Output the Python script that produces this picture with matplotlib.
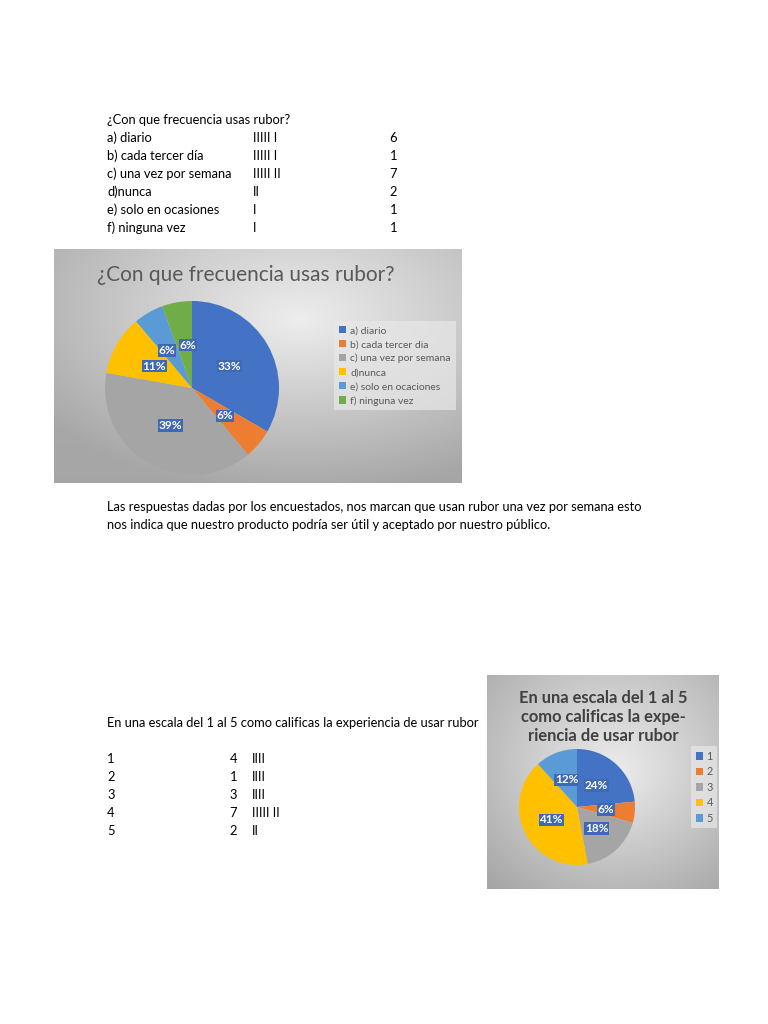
import numpy as np
import matplotlib
matplotlib.use("Agg")
import matplotlib.pyplot as plt
from matplotlib.patches import Patch

plt.rcParams['font.family'] = ['Lato', 'DejaVu Sans']

# datos encuesta 1
preg1 = "¿Con que frecuencia usas rubor?"
opciones1 = ["a) diario", "b) cada tercer día", "c) una vez por semana",
             "d)nunca", "e) solo en ocasiones", "f) ninguna vez"]
leyenda1 = ["a) diario", "b) cada tercer dia", "c) una vez por semana",
            "d)nunca", "e) solo en ocaciones", "f) ninguna vez"]
conteo1 = ["IIIII I", "IIIII I", "IIIII II", "II", "I", "I"]
valores1 = [6, 1, 7, 2, 1, 1]

# datos encuesta 2
preg2 = "En una escala del 1 al 5 como calificas la experiencia de usar rubor"
titulo2 = "En una escala del 1 al 5\ncomo calificas la expe-\nriencia de usar rubor"
escala2 = ["1", "2", "3", "4", "5"]
conteo2 = ["IIII", "IIII", "IIII", "IIIII II", "II"]
valores2 = [4, 1, 3, 7, 2]

parrafo = ["Las respuestas dadas por los encuestados, nos marcan que usan rubor una vez por semana esto",
           "nos indica que nuestro producto podría ser útil y aceptado por nuestro público."]

colores = ["#4472C4", "#ED7D31", "#A5A5A5", "#FFC000", "#5B9BD5", "#70AD47"]

W, H = 768, 1024
fig = plt.figure(figsize=(W/100, H/100), dpi=100)
fig.patch.set_facecolor("white")

def px(x, y):
    return x / W, 1 - y / H

def txt(x, y, s, **kw):
    kw.setdefault("fontsize", 9.25)
    kw.setdefault("color", "black")
    kw.setdefault("va", "center")
    fig.text(*px(x, y), s, **kw)

def rect(x0, y0, x1, y1):
    return [x0 / W, 1 - y1 / H, (x1 - x0) / W, (y1 - y0) / H]

def fondo(x0, y0, x1, y1, cx, cy):
    ax = fig.add_axes(rect(x0, y0, x1, y1))
    w, h = x1 - x0, y1 - y0
    xx, yy = np.meshgrid(np.arange(w), np.arange(h))
    d = np.sqrt(((xx - cx * w) / w) ** 2 + ((yy - cy * h) / h) ** 2)
    v = 0.94 - 0.26 * np.clip(d / 0.75, 0, 1) - 0.03 * yy / h
    img = np.dstack([v, v, v])
    ax.imshow(img, extent=[0, w, h, 0], aspect="auto", interpolation="bilinear")
    ax.set_axis_off()
    return ax

# tabla 1
txt(107, 120, preg1)
for i, (op, c, v) in enumerate(zip(opciones1, conteo1, valores1)):
    y = 138 + 18 * i
    txt(107, y, op)
    txt(253, y, c)
    txt(397, y, str(v), ha="right")

# grafica 1
fondo(54, 249, 462, 483, 0.6, 0.3)
txt(246, 275, preg1, fontsize=15, color="#595959", ha="center")
cx1, cy1, r1 = 192, 388, 87
ax1 = fig.add_axes(rect(cx1 - r1, cy1 - r1, cx1 + r1, cy1 + r1))
w1, t1, a1 = ax1.pie(valores1, colors=colores, startangle=90, counterclock=False,
                     autopct="%1.0f%%", pctdistance=0.5, radius=1,
                     textprops=dict(color="white", fontsize=8.6, fontweight="bold"))
for t in a1:
    t.set_bbox(dict(facecolor="#3F68B5", edgecolor="none", pad=0.5))
# separar un poco las dos etiquetas pequeñas
x, y = a1[4].get_position()
a1[4].set_position((x - 0.04, y))
x, y = a1[5].get_position()
a1[5].set_position((x + 0.04, y))
ax1.set_xlim(-1, 1)
ax1.set_ylim(-1, 1)
lh1 = [Patch(facecolor=c, edgecolor="none") for c in colores]
fig.legend(lh1, leyenda1, loc="upper left", bbox_to_anchor=px(329, 316),
           fontsize=7.5, frameon=True, facecolor="#E8E8E8", edgecolor="none",
           framealpha=0.7, fancybox=False, handlelength=0.7, handleheight=0.7,
           handletextpad=0.4, labelspacing=0.45, borderpad=0.45,
           labelcolor="#595959")

# parrafo
for i, linea in enumerate(parrafo):
    txt(107, 507 + 18 * i, linea)

# tabla 2
txt(107, 723, preg2)
for i, (e, v, c) in enumerate(zip(escala2, valores2, conteo2)):
    y = 759 + 18 * i
    txt(107, y, e)
    txt(237, y, str(v), ha="right")
    txt(252, y, c)

# grafica 2
fondo(487, 675, 719, 889, 0.55, 0.45)
txt(603, 717, titulo2, fontsize=11.9, color="#404040", ha="center",
    fontweight="bold", linespacing=1.2)
cx2, cy2, r2 = 577, 807, 58
ax2 = fig.add_axes(rect(cx2 - r2, cy2 - r2, cx2 + r2, cy2 + r2))
w2, t2, a2 = ax2.pie(valores2, colors=colores[:5], startangle=90, counterclock=False,
                     autopct="%1.0f%%", pctdistance=0.5, radius=1,
                     textprops=dict(color="white", fontsize=8.5, fontweight="bold"))
for t in a2:
    t.set_bbox(dict(facecolor="#3F68B5", edgecolor="none", pad=0.6))
ax2.set_xlim(-1, 1)
ax2.set_ylim(-1, 1)
lh2 = [Patch(facecolor=c, edgecolor="none") for c in colores[:5]]
fig.legend(lh2, escala2, loc="upper left", bbox_to_anchor=px(686, 741),
           fontsize=7.8, frameon=True, facecolor="#E8E8E8", edgecolor="none",
           framealpha=0.7, fancybox=False, handlelength=0.7, handleheight=0.7,
           handletextpad=0.3, labelspacing=0.42, borderpad=0.4,
           labelcolor="#595959")

fig.savefig("out.png", dpi=100)
